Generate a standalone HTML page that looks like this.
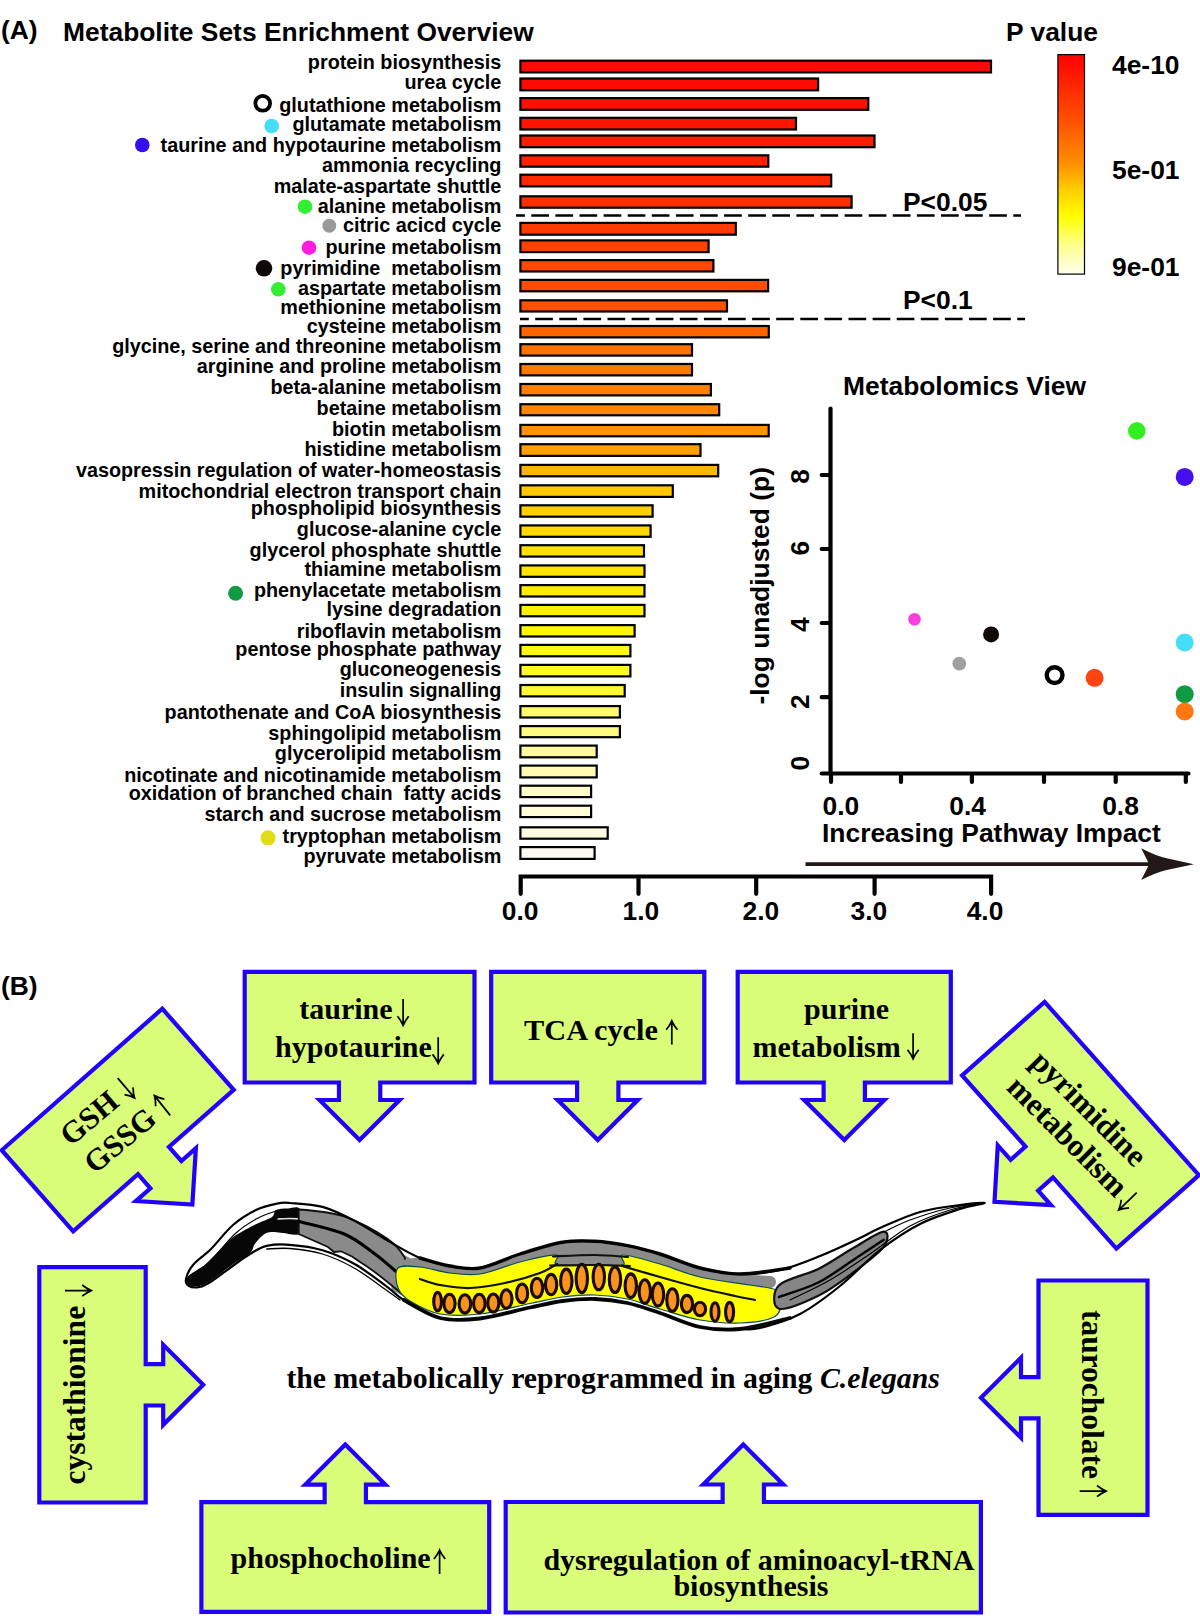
<!DOCTYPE html>
<html><head><meta charset="utf-8"><style>
html,body{margin:0;padding:0;background:#fff;width:1200px;height:1618px;overflow:hidden}
svg{display:block}
</style></head><body>
<svg width="1200" height="1618" viewBox="0 0 1200 1618">
<text x="1" y="39" font-family="'Liberation Sans', sans-serif" font-weight="bold" font-size="26.4">(A)</text>
<text x="63" y="41" font-family="'Liberation Sans', sans-serif" font-weight="bold" font-size="26.4">Metabolite Sets Enrichment Overview</text>
<g font-family="'Liberation Sans', sans-serif" font-weight="bold" font-size="19.8" text-anchor="end">
<text x="501.3" y="69.1">protein biosynthesis</text>
<text x="501.3" y="88.6">urea cycle</text>
<text x="501.3" y="111.7">glutathione metabolism</text>
<text x="501.3" y="130.8">glutamate metabolism</text>
<text x="501.3" y="152.2">taurine and hypotaurine metabolism</text>
<text x="501.3" y="171.6">ammonia recycling</text>
<text x="501.3" y="192.9">malate-aspartate shuttle</text>
<text x="501.3" y="213.3">alanine metabolism</text>
<text x="501.3" y="232.3">citric acicd cycle</text>
<text x="501.3" y="253.9">purine metabolism</text>
<text x="501.3" y="274.6">pyrimidine  metabolism</text>
<text x="501.3" y="294.6">aspartate metabolism</text>
<text x="501.3" y="313.6">methionine metabolism</text>
<text x="501.3" y="332.75">cysteine metabolism</text>
<text x="501.3" y="352.6">glycine, serine and threonine metabolism</text>
<text x="501.3" y="372.5">arginine and proline metabolism</text>
<text x="501.3" y="394.3">beta-alanine metabolism</text>
<text x="501.3" y="415">betaine metabolism</text>
<text x="501.3" y="435.9">biotin metabolism</text>
<text x="501.3" y="455.9">histidine metabolism</text>
<text x="501.3" y="476.5">vasopressin regulation of water-homeostasis</text>
<text x="501.3" y="498">mitochondrial electron transport chain</text>
<text x="501.3" y="514.9">phospholipid biosynthesis</text>
<text x="501.3" y="536.25">glucose-alanine cycle</text>
<text x="501.3" y="556.9">glycerol phosphate shuttle</text>
<text x="501.3" y="576">thiamine metabolism</text>
<text x="501.3" y="596.6">phenylacetate metabolism</text>
<text x="501.3" y="615.8">lysine degradation</text>
<text x="501.3" y="638.4">riboflavin metabolism</text>
<text x="501.3" y="656.4">pentose phosphate pathway</text>
<text x="501.3" y="675.5">gluconeogenesis</text>
<text x="501.3" y="696.9">insulin signalling</text>
<text x="501.3" y="719.3">pantothenate and CoA biosynthesis</text>
<text x="501.3" y="739.6">sphingolipid metabolism</text>
<text x="501.3" y="759.5">glycerolipid metabolism</text>
<text x="501.3" y="781.6">nicotinate and nicotinamide metabolism</text>
<text x="501.3" y="800.4">oxidation of branched chain  fatty acids</text>
<text x="501.3" y="821.4">starch and sucrose metabolism</text>
<text x="501.3" y="842.8">tryptophan metabolism</text>
<text x="501.3" y="863">pyruvate metabolism</text>
</g>
<g stroke="#000" stroke-width="2.2">
<rect x="520.4" y="60.7" width="470.6" height="11.7" fill="#ff0800"/>
<rect x="520.4" y="78.5" width="297.7" height="11.8" fill="#ff0a00"/>
<rect x="520.4" y="98.1" width="347.9" height="11.7" fill="#ff1000"/>
<rect x="520.4" y="117.8" width="275.6" height="11.7" fill="#ff1400"/>
<rect x="520.4" y="135.5" width="354.1" height="11.7" fill="#ff1c00"/>
<rect x="520.4" y="155.3" width="247.9" height="11.4" fill="#ff2000"/>
<rect x="520.4" y="174.7" width="310.8" height="11.7" fill="#ff2800"/>
<rect x="520.4" y="196.3" width="331.2" height="11.4" fill="#ff3000"/>
<rect x="520.4" y="222.9" width="215.4" height="11.8" fill="#ff3c00"/>
<rect x="520.4" y="240.4" width="188.2" height="11.7" fill="#ff4000"/>
<rect x="520.4" y="260.1" width="193.0" height="11.4" fill="#ff4800"/>
<rect x="520.4" y="279.9" width="247.7" height="11.4" fill="#ff4c00"/>
<rect x="520.4" y="300.3" width="206.6" height="11.2" fill="#ff5000"/>
<rect x="520.4" y="326.0" width="248.4" height="11.4" fill="#ff6400"/>
<rect x="520.4" y="344.2" width="171.6" height="11.4" fill="#ff7400"/>
<rect x="520.4" y="364.0" width="171.6" height="11.4" fill="#ff7a00"/>
<rect x="520.4" y="384.0" width="190.5" height="11.4" fill="#ff8000"/>
<rect x="520.4" y="404.2" width="198.8" height="11.1" fill="#ff8800"/>
<rect x="520.4" y="424.9" width="248.3" height="11.4" fill="#ff9400"/>
<rect x="520.4" y="444.2" width="180.1" height="11.7" fill="#ffa000"/>
<rect x="520.4" y="464.9" width="197.8" height="11.4" fill="#ffb400"/>
<rect x="520.4" y="485.3" width="152.4" height="11.6" fill="#ffc800"/>
<rect x="520.4" y="505.3" width="132.2" height="11.4" fill="#ffd000"/>
<rect x="520.4" y="525.4" width="130.2" height="11.4" fill="#ffd800"/>
<rect x="520.4" y="545.2" width="123.6" height="11.4" fill="#ffe000"/>
<rect x="520.4" y="565.4" width="124.1" height="11.4" fill="#ffe400"/>
<rect x="520.4" y="585.1" width="124.1" height="11.4" fill="#ffec00"/>
<rect x="520.4" y="604.9" width="124.1" height="11.4" fill="#fff000"/>
<rect x="520.4" y="625.1" width="114.2" height="11.4" fill="#fff800"/>
<rect x="520.4" y="644.9" width="110.0" height="11.4" fill="#fffa10"/>
<rect x="520.4" y="664.9" width="110.0" height="11.5" fill="#fffa20"/>
<rect x="520.4" y="685.0" width="104.3" height="11.4" fill="#fffa30"/>
<rect x="520.4" y="706.1" width="99.5" height="11.4" fill="#fffa70"/>
<rect x="520.4" y="726.1" width="99.5" height="11.1" fill="#fffa80"/>
<rect x="520.4" y="745.6" width="76.3" height="11.7" fill="#fffaa0"/>
<rect x="520.4" y="765.6" width="76.3" height="11.8" fill="#fffbb0"/>
<rect x="520.4" y="785.7" width="70.7" height="11.4" fill="#fffcc8"/>
<rect x="520.4" y="805.7" width="70.7" height="11.4" fill="#fffdd8"/>
<rect x="520.4" y="827.3" width="87.3" height="11.4" fill="#fffde0"/>
<rect x="520.4" y="847.1" width="74.2" height="11.8" fill="#fafaf0"/>
</g>
<circle cx="262.7" cy="103.3" r="7.4" fill="#fff" stroke="#000" stroke-width="3.8"/>
<circle cx="271.7" cy="126" r="7.3" fill="#44ddfa"/>
<circle cx="142.3" cy="145" r="7.3" fill="#3311ee"/>
<circle cx="305" cy="206.7" r="7.3" fill="#33ee33"/>
<circle cx="329.3" cy="225.7" r="7" fill="#999999"/>
<circle cx="309" cy="247.7" r="7.3" fill="#ff1ee0"/>
<circle cx="264" cy="268.3" r="8.3" fill="#110808"/>
<circle cx="278.3" cy="289.3" r="7.3" fill="#33ee33"/>
<circle cx="235.6" cy="593.25" r="7.5" fill="#119944"/>
<circle cx="268.1" cy="837.85" r="7.5" fill="#e0dc18"/>
<line x1="516" y1="215.5" x2="1021" y2="215.5" stroke="#000" stroke-width="2.6" stroke-dasharray="17.7 6.4" stroke-dashoffset="8.8"/>
<line x1="520" y1="319" x2="1025" y2="319" stroke="#000" stroke-width="2.6" stroke-dasharray="17.7 6.4" stroke-dashoffset="8.9"/>
<text x="903" y="210.8" font-family="'Liberation Sans', sans-serif" font-weight="bold" font-size="26.4">P&lt;0.05</text>
<text x="903" y="308.8" font-family="'Liberation Sans', sans-serif" font-weight="bold" font-size="26.4">P&lt;0.1</text>
<path d="M520.7,893.8 V876.5 H991.1 V893.8 M638.5,876.5 V893.8 M756.2,876.5 V893.8 M874.6,876.5 V893.8" fill="none" stroke="#000" stroke-width="4.2" stroke-linecap="round" stroke-linejoin="miter"/>
<text x="520.2" y="919.5" font-family="'Liberation Sans', sans-serif" font-weight="bold" font-size="26.4" text-anchor="middle">0.0</text>
<text x="640.8" y="919.5" font-family="'Liberation Sans', sans-serif" font-weight="bold" font-size="26.4" text-anchor="middle">1.0</text>
<text x="760.8" y="919.5" font-family="'Liberation Sans', sans-serif" font-weight="bold" font-size="26.4" text-anchor="middle">2.0</text>
<text x="868.8" y="919.5" font-family="'Liberation Sans', sans-serif" font-weight="bold" font-size="26.4" text-anchor="middle">3.0</text>
<text x="985" y="919.5" font-family="'Liberation Sans', sans-serif" font-weight="bold" font-size="26.4" text-anchor="middle">4.0</text>
<defs><linearGradient id="cb" x1="0" y1="0" x2="0" y2="1"><stop offset="0" stop-color="#ff0000"/><stop offset="0.3" stop-color="#ff5000"/><stop offset="0.5" stop-color="#ff9000"/><stop offset="0.62" stop-color="#ffd000"/><stop offset="0.74" stop-color="#ffff00"/><stop offset="0.87" stop-color="#ffff90"/><stop offset="1" stop-color="#fffff0"/></linearGradient></defs>
<rect x="1057.9" y="54.6" width="26.6" height="219.5" fill="url(#cb)" stroke="#000" stroke-width="1.2"/>
<text x="1006" y="40.6" font-family="'Liberation Sans', sans-serif" font-weight="bold" font-size="26.4">P value</text>
<text x="1112" y="73.9" font-family="'Liberation Sans', sans-serif" font-weight="bold" font-size="26.4">4e-10</text>
<text x="1112" y="179.2" font-family="'Liberation Sans', sans-serif" font-weight="bold" font-size="26.4">5e-01</text>
<text x="1112" y="276.4" font-family="'Liberation Sans', sans-serif" font-weight="bold" font-size="26.4">9e-01</text>
<text x="843" y="394.5" font-family="'Liberation Sans', sans-serif" font-weight="bold" font-size="26.4">Metabolomics View</text>
<path d="M830.5,408.5 V773.5 M821.7,475 H830.5 M821.7,549 H830.5 M821.7,623 H830.5 M821.7,697.2 H830.5 M821.7,773.5 H1188.5 M831,773.5 V782 M901,773.5 V782 M971.9,773.5 V782 M1044,773.5 V782 M1115.7,773.5 V782 M1185.8,773.5 V782" fill="none" stroke="#000" stroke-width="4.2" stroke-linecap="round"/>
<text transform="translate(809.3,476.4) rotate(-90)" font-family="'Liberation Sans', sans-serif" font-weight="bold" font-size="26.4" text-anchor="middle">8</text>
<text transform="translate(809.3,548.1) rotate(-90)" font-family="'Liberation Sans', sans-serif" font-weight="bold" font-size="26.4" text-anchor="middle">6</text>
<text transform="translate(809.3,624.7) rotate(-90)" font-family="'Liberation Sans', sans-serif" font-weight="bold" font-size="26.4" text-anchor="middle">4</text>
<text transform="translate(809.3,701.6) rotate(-90)" font-family="'Liberation Sans', sans-serif" font-weight="bold" font-size="26.4" text-anchor="middle">2</text>
<text transform="translate(809.3,763.1) rotate(-90)" font-family="'Liberation Sans', sans-serif" font-weight="bold" font-size="26.4" text-anchor="middle">0</text>
<text transform="translate(768.6,585.8) rotate(-90)" font-family="'Liberation Sans', sans-serif" font-weight="bold" font-size="26.4" text-anchor="middle">-log unadjusted (p)</text>
<text x="840.8" y="814.6" font-family="'Liberation Sans', sans-serif" font-weight="bold" font-size="26.4" text-anchor="middle">0.0</text>
<text x="967.7" y="814.6" font-family="'Liberation Sans', sans-serif" font-weight="bold" font-size="26.4" text-anchor="middle">0.4</text>
<text x="1120.5" y="814.6" font-family="'Liberation Sans', sans-serif" font-weight="bold" font-size="26.4" text-anchor="middle">0.8</text>
<text x="822" y="841.8" font-family="'Liberation Sans', sans-serif" font-weight="bold" font-size="26.4">Increasing Pathway Impact</text>
<circle cx="1136.8" cy="430.9" r="8.8" fill="#33ee22"/>
<circle cx="1184.7" cy="476.9" r="9" fill="#4411ee"/>
<circle cx="914.5" cy="619.3" r="6.3" fill="#fa3ee0"/>
<circle cx="991.1" cy="634.4" r="8" fill="#110808"/>
<circle cx="959.3" cy="663.6" r="6.9" fill="#a0a0a0"/>
<circle cx="1094.6" cy="677.8" r="9" fill="#ff4411"/>
<circle cx="1184.7" cy="642.5" r="9" fill="#44ddfa"/>
<circle cx="1184.7" cy="694.2" r="9" fill="#119944"/>
<circle cx="1184.7" cy="711.5" r="9" fill="#ff7711"/>
<circle cx="1054.6" cy="675.1" r="7.9" fill="#fff" stroke="#000" stroke-width="4.4"/>
<line x1="805.5" y1="864.2" x2="1150" y2="864.2" stroke="#231815" stroke-width="3.7"/>
<path d="M1141.2,848.3 Q1156,856 1166.7,858.3 L1193.8,864.2 L1166.7,870 Q1156,872.5 1141.2,880 L1149.2,864.2 Z" fill="#231815"/>
<text x="1" y="995" font-family="'Liberation Sans', sans-serif" font-weight="bold" font-size="26.4">(B)</text>
<path transform="translate(359.6,1027.2) rotate(0)" d="M-114.9,-55.325 L114.9,-55.325 L114.9,55.325 L20.65,55.325 L20.65,72.825 L40,72.825 L0,112.825 L-40,72.825 L-20.65,72.825 L-20.65,55.325 L-114.9,55.325 Z" fill="#d9fd78" stroke="#2200ff" stroke-width="4.2" stroke-linejoin="miter" stroke-miterlimit="10"/>
<path transform="translate(597.75,1027.2) rotate(0)" d="M-106.55,-55.325 L106.55,-55.325 L106.55,55.325 L20.65,55.325 L20.65,72.825 L40,72.825 L0,112.825 L-40,72.825 L-20.65,72.825 L-20.65,55.325 L-106.55,55.325 Z" fill="#d9fd78" stroke="#2200ff" stroke-width="4.2" stroke-linejoin="miter" stroke-miterlimit="10"/>
<path transform="translate(844.25,1027.2) rotate(0)" d="M-106.55,-55.325 L106.55,-55.325 L106.55,55.325 L20.65,55.325 L20.65,72.825 L40,72.825 L0,112.825 L-40,72.825 L-20.65,72.825 L-20.65,55.325 L-106.55,55.325 Z" fill="#d9fd78" stroke="#2200ff" stroke-width="4.2" stroke-linejoin="miter" stroke-miterlimit="10"/>
<path transform="translate(117.75,1120) rotate(-41.4)" d="M-107.0,-54.0 L107.0,-54.0 L107.0,54.0 L20.65,54.0 L20.65,72.8 L40,72.8 L0,112.8 L-40,72.8 L-20.65,72.8 L-20.65,54.0 L-107.0,54.0 Z" fill="#d9fd78" stroke="#2200ff" stroke-width="4.2" stroke-linejoin="miter" stroke-miterlimit="10"/>
<path transform="translate(1080.5,1125.25) rotate(48.3)" d="M-116.0,-55.25 L116.0,-55.25 L116.0,55.25 L20.65,55.25 L20.65,75.15 L40,75.15 L0,115.15 L-40,75.15 L-20.65,75.15 L-20.65,55.25 L-116.0,55.25 Z" fill="#d9fd78" stroke="#2200ff" stroke-width="4.2" stroke-linejoin="miter" stroke-miterlimit="10"/>
<path transform="translate(92.5,1384.85) rotate(-90)" d="M-117.65,-53.2 L117.65,-53.2 L117.65,53.2 L20.65,53.2 L20.65,70.7 L40,70.7 L0,110.7 L-40,70.7 L-20.65,70.7 L-20.65,53.2 L-117.65,53.2 Z" fill="#d9fd78" stroke="#2200ff" stroke-width="4.2" stroke-linejoin="miter" stroke-miterlimit="10"/>
<path transform="translate(1093,1397.7) rotate(90)" d="M-117.2,-54.5 L117.2,-54.5 L117.2,54.5 L20.65,54.5 L20.65,72.0 L40,72.0 L0,112.0 L-40,72.0 L-20.65,72.0 L-20.65,54.5 L-117.2,54.5 Z" fill="#d9fd78" stroke="#2200ff" stroke-width="4.2" stroke-linejoin="miter" stroke-miterlimit="10"/>
<path transform="translate(345.3,1557) rotate(180)" d="M-143.9,-54.95 L143.9,-54.95 L143.9,54.95 L20.65,54.95 L20.65,72.45 L40,72.45 L0,112.45 L-40,72.45 L-20.65,72.45 L-20.65,54.95 L-143.9,54.95 Z" fill="#d9fd78" stroke="#2200ff" stroke-width="4.2" stroke-linejoin="miter" stroke-miterlimit="10"/>
<path transform="translate(743.3,1557.25) rotate(180)" d="M-237.6,-55.25 L237.6,-55.25 L237.6,55.25 L20.65,55.25 L20.65,72.75 L40,72.75 L0,112.75 L-40,72.75 L-20.65,72.75 L-20.65,55.25 L-237.6,55.25 Z" fill="#d9fd78" stroke="#2200ff" stroke-width="4.2" stroke-linejoin="miter" stroke-miterlimit="10"/>
<text x="299.3" y="1018.5" font-family="'Liberation Serif', serif" font-weight="bold" font-size="30" >taurine</text>
<text x="275.1" y="1056.6" font-family="'Liberation Serif', serif" font-weight="bold" font-size="30" >hypotaurine</text>
<text x="524.1" y="1039.6" font-family="'Liberation Serif', serif" font-weight="bold" font-size="30.3" >TCA cycle</text>
<text x="804.1" y="1018.5" font-family="'Liberation Serif', serif" font-weight="bold" font-size="30" >purine</text>
<text x="752.4" y="1056.8" font-family="'Liberation Serif', serif" font-weight="bold" font-size="30" >metabolism</text>
<text x="230.6" y="1568" font-family="'Liberation Serif', serif" font-weight="bold" font-size="30" >phosphocholine</text>
<text x="543.4" y="1570.3" font-family="'Liberation Serif', serif" font-weight="bold" font-size="30" >dysregulation of aminoacyl-tRNA</text>
<text x="673.4" y="1595.9" font-family="'Liberation Serif', serif" font-weight="bold" font-size="30" >biosynthesis</text>
<path transform="translate(403.1,999.0) rotate(0.00)" d="M0,0 V26.3 M-5.6,17.3 Q-1.96,21.8 0,26.3 Q1.96,21.8 5.6,17.3" fill="none" stroke="#000" stroke-width="1.7"/>
<path transform="translate(438.2,1037.2) rotate(0.00)" d="M0,0 V26.2 M-5.6,17.2 Q-1.96,21.8 0,26.2 Q1.96,21.8 5.6,17.2" fill="none" stroke="#000" stroke-width="1.7"/>
<path transform="translate(671.8,1044.6) rotate(-180.00)" d="M0,0 V23.8 M-5.6,14.8 Q-1.96,19.3 0,23.8 Q1.96,19.3 5.6,14.8" fill="none" stroke="#000" stroke-width="1.7"/>
<path transform="translate(913.1,1033.2) rotate(0.00)" d="M0,0 V25.6 M-5.6,16.6 Q-1.96,21.1 0,25.6 Q1.96,21.1 5.6,16.6" fill="none" stroke="#000" stroke-width="1.7"/>
<path transform="translate(439.6,1574.0) rotate(-180.00)" d="M0,0 V24.0 M-5.6,15.0 Q-1.96,19.5 0,24.0 Q1.96,19.5 5.6,15.0" fill="none" stroke="#000" stroke-width="1.7"/>
<path transform="translate(64.9,1290.6) rotate(-90.00)" d="M0,0 V26.3 M-5.6,17.3 Q-1.96,21.8 0,26.3 Q1.96,21.8 5.6,17.3" fill="none" stroke="#000" stroke-width="1.7"/>
<path transform="translate(1079.7,1491.1) rotate(-90.00)" d="M0,0 V26.3 M-5.6,17.3 Q-1.96,21.8 0,26.3 Q1.96,21.8 5.6,17.3" fill="none" stroke="#000" stroke-width="1.7"/>
<path transform="translate(117.7,1078.1) rotate(-40.48)" d="M0,0 V26.0 M-5.6,17.0 Q-1.96,21.5 0,26.0 Q1.96,21.5 5.6,17.0" fill="none" stroke="#000" stroke-width="1.7"/>
<path transform="translate(170.2,1115.4) rotate(-218.59)" d="M0,0 V25.3 M-5.6,16.3 Q-1.96,20.8 0,25.3 Q1.96,20.8 5.6,16.3" fill="none" stroke="#000" stroke-width="1.7"/>
<path transform="translate(1136.7,1192.7) rotate(46.14)" d="M0,0 V25.0 M-5.6,16.0 Q-1.96,20.5 0,25.0 Q1.96,20.5 5.6,16.0" fill="none" stroke="#000" stroke-width="1.7"/>
<text transform="translate(84.8,1484.4) rotate(-90)" font-family="'Liberation Serif', serif" font-weight="bold" font-size="31.5">cystathionine</text>
<text transform="translate(1081.8,1309.9) rotate(90)" font-family="'Liberation Serif', serif" font-weight="bold" font-size="31.5">taurocholate</text>
<text transform="translate(89.2,1118.1) rotate(-40)" x="0" y="10.15" font-family="'Liberation Serif', serif" font-weight="bold" font-size="31" text-anchor="middle">GSH</text>
<text transform="translate(120,1140.5) rotate(-40)" x="0" y="10.15" font-family="'Liberation Serif', serif" font-weight="bold" font-size="31" text-anchor="middle">GSSG</text>
<text transform="translate(1086.7,1110.7) rotate(45)" x="0" y="7.1" font-family="'Liberation Serif', serif" font-weight="bold" font-size="31.5" text-anchor="middle">pyrimidine</text>
<text transform="translate(1065.3,1138.7) rotate(45)" x="0" y="7.1" font-family="'Liberation Serif', serif" font-weight="bold" font-size="31.5" text-anchor="middle">metabolism</text>
<text x="286.4" y="1388" font-family="'Liberation Serif', serif" font-weight="bold" font-size="29.75">the metabolically reprogrammed in aging <tspan font-style="italic">C.elegans</tspan></text>
<g><path d="M186.0,1279.0 C186.7,1275.5 188.8,1270.0 193.0,1265.0 C197.2,1260.0 204.3,1255.7 211.0,1249.0 C217.7,1242.3 225.5,1231.5 233.0,1225.0 C240.5,1218.5 248.6,1213.6 256.0,1210.0 C263.4,1206.4 271.8,1204.7 277.5,1203.5 C283.2,1202.3 282.5,1202.4 290.0,1203.0 C297.5,1203.6 311.7,1203.9 322.5,1206.9 C333.3,1209.9 344.2,1215.4 355.0,1221.0 C365.8,1226.6 376.7,1234.3 387.5,1240.5 C398.3,1246.7 409.6,1253.8 420.0,1258.0 C430.4,1262.2 440.0,1264.3 450.0,1266.0 C460.0,1267.7 468.3,1270.0 480.0,1268.0 C491.7,1266.0 506.2,1258.3 520.0,1254.0 C533.8,1249.7 550.0,1244.4 562.5,1242.3 C575.0,1240.2 584.2,1240.8 595.0,1241.3 C605.8,1241.8 616.7,1243.5 627.5,1245.6 C638.3,1247.7 647.9,1250.3 660.0,1254.0 C672.1,1257.7 686.7,1264.7 700.0,1268.0 C713.3,1271.3 726.7,1273.7 740.0,1274.0 C753.3,1274.3 766.7,1273.0 780.0,1270.0 C793.3,1267.0 806.7,1261.3 820.0,1256.0 C833.3,1250.7 850.0,1242.7 860.0,1238.0 C870.0,1233.3 870.0,1232.3 880.0,1228.0 C890.0,1223.7 906.7,1215.8 920.0,1212.0 C933.3,1208.2 949.2,1206.5 960.0,1205.0 C970.8,1203.5 985.0,1202.3 985.0,1203.0 C985.0,1203.7 970.8,1205.5 960.0,1209.0 C949.2,1212.5 933.3,1217.2 920.0,1224.0 C906.7,1230.8 893.3,1239.7 880.0,1250.0 C866.7,1260.3 853.3,1275.3 840.0,1286.0 C826.7,1296.7 813.3,1307.0 800.0,1314.0 C786.7,1321.0 770.0,1325.5 760.0,1328.0 C750.0,1330.5 750.0,1329.2 740.0,1329.0 C730.0,1328.8 713.3,1329.7 700.0,1327.0 C686.7,1324.3 672.1,1317.0 660.0,1313.0 C647.9,1309.0 638.3,1305.3 627.5,1303.0 C616.7,1300.7 605.8,1299.3 595.0,1299.0 C584.2,1298.7 573.3,1299.6 562.5,1301.0 C551.7,1302.4 543.8,1304.6 530.0,1307.5 C516.2,1310.4 495.0,1316.8 480.0,1318.5 C465.0,1320.2 452.7,1321.1 440.0,1318.0 C427.3,1314.9 412.5,1305.2 403.8,1300.0 C395.0,1294.8 395.6,1293.0 387.5,1287.1 C379.4,1281.1 365.8,1270.4 355.0,1264.3 C344.2,1258.2 333.3,1253.5 322.5,1250.3 C311.7,1247.0 299.3,1245.5 290.0,1244.8 C280.7,1244.1 273.4,1244.4 266.7,1245.9 C260.0,1247.4 255.4,1250.8 250.0,1254.0 C244.6,1257.2 240.3,1260.5 234.0,1265.0 C227.7,1269.5 217.8,1277.3 212.0,1281.0 C206.2,1284.7 203.3,1286.2 199.5,1287.0 C195.7,1287.8 191.2,1287.3 189.0,1286.0 C186.8,1284.7 185.3,1282.5 186.0,1279.0 Z" fill="#fff" stroke="none" stroke-width="0"/><path d="M196.0,1275.0 C199.0,1272.0 207.3,1264.0 214.0,1257.0 C220.7,1250.0 228.7,1239.5 236.0,1233.0 C243.3,1226.5 251.3,1221.7 258.0,1218.0 C264.7,1214.3 273.0,1212.2 276.0,1211.0" fill="none" stroke="#000" stroke-width="1.2" stroke-linecap="round" /><path d="M266.7,1249.0 C270.6,1248.9 280.7,1247.7 290.0,1248.5 C299.3,1249.3 311.7,1250.7 322.5,1254.0 C333.3,1257.3 344.2,1262.3 355.0,1268.5 C365.8,1274.7 380.0,1285.8 387.5,1291.0 C395.0,1296.2 397.9,1298.5 400.0,1300.0" fill="none" stroke="#000" stroke-width="1.3" stroke-linecap="round" /><path d="M187.6,1277.0 C189.0,1274.5 193.8,1272.3 197.0,1270.0 C200.2,1267.7 202.1,1267.5 207.0,1263.0 C211.9,1258.5 221.7,1247.7 226.6,1243.0 C231.5,1238.3 231.4,1238.1 236.3,1235.0 C241.2,1231.9 249.9,1227.3 255.8,1224.3 C261.8,1221.3 268.6,1219.4 272.0,1217.0 C275.4,1214.6 273.3,1211.4 276.0,1210.0 C278.7,1208.6 284.0,1208.6 288.0,1208.5 C292.0,1208.4 298.0,1205.4 300.0,1209.5 C302.0,1213.6 302.8,1229.1 300.0,1233.0 C297.2,1236.9 287.3,1233.2 283.0,1233.0 C278.7,1232.8 277.1,1231.8 274.0,1232.0 C270.9,1232.2 267.7,1232.0 264.5,1234.0 C261.3,1236.0 257.2,1240.9 254.8,1244.0 C252.5,1247.1 253.8,1249.2 250.4,1252.4 C247.0,1255.6 240.5,1258.8 234.2,1263.3 C227.9,1267.8 218.3,1275.7 212.5,1279.5 C206.7,1283.3 203.5,1285.1 199.5,1286.0 C195.5,1286.9 190.7,1286.5 188.7,1285.0 C186.7,1283.5 186.2,1279.5 187.6,1277.0 Z" fill="#070707" stroke="none" stroke-width="0"/><path d="M278.0,1219.0 C280.0,1218.9 286.3,1218.5 290.0,1218.5 C293.7,1218.5 298.3,1218.9 300.0,1219.0" fill="none" stroke="#ddd" stroke-width="1.6" stroke-linecap="round" /><path d="M385,1245 L410,1258 L410,1300 L392,1290 Z" fill="#8a8a8a"/><path d="M298.7,1209.5 C320,1211 335,1213.5 344.2,1216.5 C360,1222 375,1230 387,1238.5 C395,1244 401,1251 405,1258 L402,1294 C390,1284 375,1271 360.4,1262.2 L352,1256.5 L341,1251.3 L334,1252 L328,1247 L298.7,1234 Z" fill="#8a8a8a" stroke="#111" stroke-width="1.8"/><path d="M298.7,1221.5 C306.3,1223.6 331.5,1228.6 344.2,1234.0 C356.9,1239.4 365.7,1247.2 375.0,1254.0 C384.3,1260.8 395.8,1271.5 400.0,1275.0" fill="none" stroke="#000" stroke-width="3.0" stroke-linecap="round" /><path d="M405.0,1266.0 C407.5,1265.7 412.5,1263.0 420.0,1264.0 C427.5,1265.0 440.0,1270.3 450.0,1272.0 C460.0,1273.7 468.3,1275.8 480.0,1274.0 C491.7,1272.2 506.2,1265.0 520.0,1261.0 C533.8,1257.0 550.0,1252.0 562.5,1250.0 C575.0,1248.0 584.2,1248.5 595.0,1249.0 C605.8,1249.5 616.7,1251.0 627.5,1253.0 C638.3,1255.0 647.9,1257.3 660.0,1261.0 C672.1,1264.7 686.7,1271.8 700.0,1275.0 C713.3,1278.2 728.3,1278.8 740.0,1280.0 C751.7,1281.2 765.0,1281.7 770.0,1282.0" fill="none" stroke="#8a8a8a" stroke-width="12" stroke-linecap="round" /><path d="M548,1252 L632,1252 L632,1267 L548,1267 Z" fill="#8a8a8a"/><path d="M398.0,1268.0 C401.7,1264.5 411.3,1266.2 420.0,1267.0 C428.7,1267.8 440.0,1271.8 450.0,1273.0 C460.0,1274.2 468.3,1275.8 480.0,1274.0 C491.7,1272.2 507.3,1265.2 520.0,1262.0 C532.7,1258.8 549.8,1254.5 556.0,1255.0 C562.2,1255.5 550.5,1263.3 557.0,1265.0 C563.5,1266.7 584.0,1265.0 595.0,1265.0 C606.0,1265.0 618.3,1266.7 623.0,1265.0 C627.7,1263.3 616.8,1255.2 623.0,1255.0 C629.2,1254.8 647.2,1260.3 660.0,1264.0 C672.8,1267.7 685.0,1273.5 700.0,1277.0 C715.0,1280.5 737.3,1282.8 750.0,1285.0 C762.7,1287.2 770.8,1287.2 776.0,1290.0 C781.2,1292.8 781.3,1297.5 781.0,1302.0 C780.7,1306.5 780.8,1313.5 774.0,1317.0 C767.2,1320.5 752.3,1322.5 740.0,1323.0 C727.7,1323.5 713.3,1322.3 700.0,1320.0 C686.7,1317.7 672.1,1312.5 660.0,1309.0 C647.9,1305.5 638.3,1301.3 627.5,1299.0 C616.7,1296.7 605.8,1295.3 595.0,1295.0 C584.2,1294.7 573.3,1295.6 562.5,1297.0 C551.7,1298.4 543.8,1300.7 530.0,1303.5 C516.2,1306.3 495.0,1312.2 480.0,1314.0 C465.0,1315.8 451.7,1316.2 440.0,1314.0 C428.3,1311.8 417.0,1305.3 410.0,1301.0 C403.0,1296.7 400.0,1293.5 398.0,1288.0 C396.0,1282.5 394.3,1271.5 398.0,1268.0 Z" fill="#ffff00" stroke="#0b4a5a" stroke-width="1.2"/><path d="M553.0,1256.5 C560.0,1256.2 582.5,1254.9 595.0,1255.0 C607.5,1255.1 622.5,1256.7 628.0,1257.0" fill="none" stroke="#111" stroke-width="2.2" stroke-linecap="round" /><path d="M550.0,1265.5 C557.5,1265.4 581.7,1264.9 595.0,1265.0 C608.3,1265.1 624.2,1265.8 630.0,1266.0" fill="none" stroke="#111" stroke-width="2.2" stroke-linecap="round" /><path d="M420.0,1279.0 C423.3,1280.0 431.7,1283.5 440.0,1285.0 C448.3,1286.5 459.2,1288.3 470.0,1288.0 C480.8,1287.7 493.3,1285.5 505.0,1283.0 C516.7,1280.5 531.3,1276.2 540.0,1273.0 C548.7,1269.8 554.2,1265.5 557.0,1264.0" fill="none" stroke="#111" stroke-width="2.2" stroke-linecap="round" /><path d="M622.0,1266.0 C628.3,1267.8 647.0,1273.3 660.0,1277.0 C673.0,1280.7 687.5,1284.8 700.0,1288.0 C712.5,1291.2 725.8,1294.0 735.0,1296.0 C744.2,1298.0 751.7,1299.3 755.0,1300.0" fill="none" stroke="#111" stroke-width="2.2" stroke-linecap="round" /><path d="M420.0,1258.0 C425.0,1259.3 440.0,1264.3 450.0,1266.0 C460.0,1267.7 468.3,1270.0 480.0,1268.0 C491.7,1266.0 506.2,1258.3 520.0,1254.0 C533.8,1249.7 550.0,1244.4 562.5,1242.3 C575.0,1240.2 584.2,1240.8 595.0,1241.3 C605.8,1241.8 616.7,1243.5 627.5,1245.6 C638.3,1247.7 647.9,1250.3 660.0,1254.0 C672.1,1257.7 686.7,1264.7 700.0,1268.0 C713.3,1271.3 725.0,1274.0 740.0,1274.0 C755.0,1274.0 781.7,1269.0 790.0,1268.0" fill="none" stroke="#0a0a0a" stroke-width="3.4" stroke-linecap="round" /><path d="M403.8,1300.0 C409.8,1303.0 427.3,1314.9 440.0,1318.0 C452.7,1321.1 465.0,1320.2 480.0,1318.5 C495.0,1316.8 516.2,1310.4 530.0,1307.5 C543.8,1304.6 551.7,1302.4 562.5,1301.0 C573.3,1299.6 584.2,1298.7 595.0,1299.0 C605.8,1299.3 616.7,1300.7 627.5,1303.0 C638.3,1305.3 647.9,1309.0 660.0,1313.0 C672.1,1317.0 686.7,1324.3 700.0,1327.0 C713.3,1329.7 725.0,1330.5 740.0,1329.0 C755.0,1327.5 781.7,1319.8 790.0,1318.0" fill="none" stroke="#0a0a0a" stroke-width="3.8" stroke-linecap="round" /><path d="M779.0,1285.3 C785.5,1278.7 805.9,1275.2 818.3,1269.0 C830.7,1262.8 842.4,1254.2 853.3,1248.0 C864.2,1241.8 878.6,1231.9 883.7,1231.7 C888.8,1231.5 888.8,1240.0 883.7,1246.8 C878.6,1253.6 864.2,1264.3 853.3,1272.5 C842.4,1280.7 830.7,1289.8 818.3,1295.8 C805.9,1301.8 785.5,1310.5 779.0,1308.7 C772.5,1307.0 772.5,1291.9 779.0,1285.3 Z" fill="#858585" stroke="#111" stroke-width="2.2"/><path d="M779.0,1297.0 C785.5,1294.6 805.9,1288.7 818.3,1282.5 C830.7,1276.3 842.4,1267.1 853.3,1260.0 C864.2,1252.9 878.6,1243.2 883.7,1239.8" fill="none" stroke="#000" stroke-width="2.4" stroke-linecap="round" /><path d="M790.0,1300.0 C796.7,1296.7 816.7,1287.7 830.0,1280.0 C843.3,1272.3 856.7,1263.0 870.0,1254.0 C883.3,1245.0 896.7,1233.3 910.0,1226.0 C923.3,1218.7 937.7,1213.8 950.0,1210.0 C962.3,1206.2 978.3,1204.2 984.0,1203.0" fill="none" stroke="#000" stroke-width="1.2" stroke-linecap="round" /><path d="M884.0,1232.0 C888.3,1230.0 899.0,1224.0 910.0,1220.0 C921.0,1216.0 937.7,1210.8 950.0,1208.0 C962.3,1205.2 978.3,1203.8 984.0,1203.0" fill="none" stroke="#000" stroke-width="1.2" stroke-linecap="round" /><path d="M186.0,1279.0 C186.7,1275.5 188.8,1270.0 193.0,1265.0 C197.2,1260.0 204.3,1255.7 211.0,1249.0 C217.7,1242.3 225.5,1231.5 233.0,1225.0 C240.5,1218.5 248.6,1213.6 256.0,1210.0 C263.4,1206.4 271.8,1204.7 277.5,1203.5 C283.2,1202.3 282.5,1202.4 290.0,1203.0 C297.5,1203.6 311.7,1203.9 322.5,1206.9 C333.3,1209.9 344.2,1215.4 355.0,1221.0 C365.8,1226.6 376.7,1234.3 387.5,1240.5 C398.3,1246.7 409.6,1253.8 420.0,1258.0 C430.4,1262.2 440.0,1264.3 450.0,1266.0 C460.0,1267.7 468.3,1270.0 480.0,1268.0 C491.7,1266.0 506.2,1258.3 520.0,1254.0 C533.8,1249.7 550.0,1244.4 562.5,1242.3 C575.0,1240.2 584.2,1240.8 595.0,1241.3 C605.8,1241.8 616.7,1243.5 627.5,1245.6 C638.3,1247.7 647.9,1250.3 660.0,1254.0 C672.1,1257.7 686.7,1264.7 700.0,1268.0 C713.3,1271.3 726.7,1273.7 740.0,1274.0 C753.3,1274.3 766.7,1273.0 780.0,1270.0 C793.3,1267.0 806.7,1261.3 820.0,1256.0 C833.3,1250.7 850.0,1242.7 860.0,1238.0 C870.0,1233.3 870.0,1232.3 880.0,1228.0 C890.0,1223.7 906.7,1215.8 920.0,1212.0 C933.3,1208.2 949.2,1206.5 960.0,1205.0 C970.8,1203.5 985.0,1202.3 985.0,1203.0 C985.0,1203.7 970.8,1205.5 960.0,1209.0 C949.2,1212.5 933.3,1217.2 920.0,1224.0 C906.7,1230.8 893.3,1239.7 880.0,1250.0 C866.7,1260.3 853.3,1275.3 840.0,1286.0 C826.7,1296.7 813.3,1307.0 800.0,1314.0 C786.7,1321.0 770.0,1325.5 760.0,1328.0 C750.0,1330.5 750.0,1329.2 740.0,1329.0 C730.0,1328.8 713.3,1329.7 700.0,1327.0 C686.7,1324.3 672.1,1317.0 660.0,1313.0 C647.9,1309.0 638.3,1305.3 627.5,1303.0 C616.7,1300.7 605.8,1299.3 595.0,1299.0 C584.2,1298.7 573.3,1299.6 562.5,1301.0 C551.7,1302.4 543.8,1304.6 530.0,1307.5 C516.2,1310.4 495.0,1316.8 480.0,1318.5 C465.0,1320.2 452.7,1321.1 440.0,1318.0 C427.3,1314.9 412.5,1305.2 403.8,1300.0 C395.0,1294.8 395.6,1293.0 387.5,1287.1 C379.4,1281.1 365.8,1270.4 355.0,1264.3 C344.2,1258.2 333.3,1253.5 322.5,1250.3 C311.7,1247.0 299.3,1245.5 290.0,1244.8 C280.7,1244.1 273.4,1244.4 266.7,1245.9 C260.0,1247.4 255.4,1250.8 250.0,1254.0 C244.6,1257.2 240.3,1260.5 234.0,1265.0 C227.7,1269.5 217.8,1277.3 212.0,1281.0 C206.2,1284.7 203.3,1286.2 199.5,1287.0 C195.7,1287.8 191.2,1287.3 189.0,1286.0 C186.8,1284.7 185.3,1282.5 186.0,1279.0 Z" fill="none" stroke="#000" stroke-width="2.2"/><ellipse cx="437.6" cy="1301.6" rx="3.9" ry="9.2" fill="#f7941e" stroke="#1c0804" stroke-width="3.1"/><ellipse cx="449.5" cy="1303.4" rx="5.6" ry="9.2" fill="#f7941e" stroke="#1c0804" stroke-width="3.1"/><ellipse cx="464.9" cy="1303.9" rx="5.8" ry="9.2" fill="#f7941e" stroke="#1c0804" stroke-width="3.1"/><ellipse cx="479.3" cy="1303.4" rx="5.8" ry="9.2" fill="#f7941e" stroke="#1c0804" stroke-width="3.1"/><ellipse cx="493.3" cy="1303" rx="5.6" ry="9" fill="#f7941e" stroke="#1c0804" stroke-width="3.1"/><ellipse cx="506.4" cy="1299" rx="5.6" ry="9.2" fill="#f7941e" stroke="#1c0804" stroke-width="3.1"/><ellipse cx="522.1" cy="1293.4" rx="5.6" ry="9.4" fill="#f7941e" stroke="#1c0804" stroke-width="3.1"/><ellipse cx="537" cy="1287.8" rx="5.7" ry="9.6" fill="#f7941e" stroke="#1c0804" stroke-width="3.1"/><ellipse cx="551.1" cy="1284.6" rx="5.7" ry="10.2" fill="#f7941e" stroke="#1c0804" stroke-width="3.1"/><ellipse cx="566.3" cy="1281.3" rx="5.7" ry="12.2" fill="#f7941e" stroke="#1c0804" stroke-width="3.1"/><ellipse cx="581.8" cy="1278.6" rx="5.7" ry="14.2" fill="#f7941e" stroke="#1c0804" stroke-width="3.1"/><ellipse cx="598.8" cy="1277" rx="5.7" ry="12.8" fill="#f7941e" stroke="#1c0804" stroke-width="3.1"/><ellipse cx="615" cy="1279.7" rx="5.7" ry="12.8" fill="#f7941e" stroke="#1c0804" stroke-width="3.1"/><ellipse cx="630.8" cy="1285.7" rx="5.7" ry="11.8" fill="#f7941e" stroke="#1c0804" stroke-width="3.1"/><ellipse cx="644.8" cy="1291.6" rx="5.7" ry="11.8" fill="#f7941e" stroke="#1c0804" stroke-width="3.1"/><ellipse cx="658" cy="1294.5" rx="5.7" ry="11.5" fill="#f7941e" stroke="#1c0804" stroke-width="3.1"/><ellipse cx="672.4" cy="1300" rx="5.6" ry="11.3" fill="#f7941e" stroke="#1c0804" stroke-width="3.1"/><ellipse cx="687" cy="1304" rx="5.6" ry="8.6" fill="#f7941e" stroke="#1c0804" stroke-width="3.1"/><ellipse cx="700" cy="1309" rx="5.6" ry="6.8" fill="#f7941e" stroke="#1c0804" stroke-width="3.1"/><ellipse cx="715" cy="1312" rx="4" ry="9.2" fill="#f7941e" stroke="#1c0804" stroke-width="3.1"/><ellipse cx="729.6" cy="1312" rx="4" ry="9.6" fill="#f7941e" stroke="#1c0804" stroke-width="3.1"/></g>
</svg></body></html>
